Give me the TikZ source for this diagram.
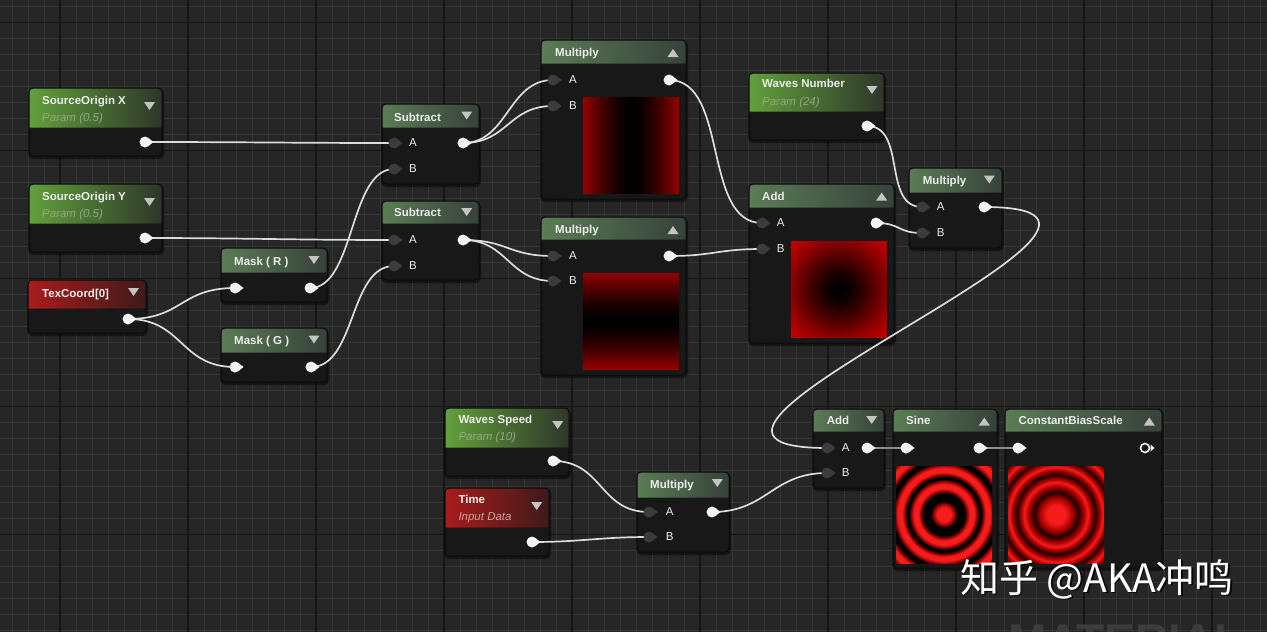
\documentclass[tikz,border=0pt]{standalone}
\usepackage{fontspec}
\setmainfont{Liberation Sans}
\newfontfamily\cjkfont{Noto Sans CJK SC}
\usetikzlibrary{fit}
\definecolor{bgc}{HTML}{262626}
\definecolor{gridminor}{HTML}{353535}
\definecolor{gridmajor}{HTML}{161616}
\definecolor{bodyc}{HTML}{181818}
\definecolor{edgec}{HTML}{0A0A0A}
\definecolor{wirec}{HTML}{DCDCDC}
\definecolor{wiredim}{HTML}{8C8C8C}
\definecolor{pinw}{HTML}{F2F2F2}
\definecolor{ping}{HTML}{3C3C3C}
\definecolor{arrc}{HTML}{C4C4C4}
\definecolor{titlec}{HTML}{EDEDED}
\definecolor{opL}{HTML}{5B7C55}
\definecolor{opR}{HTML}{36413A}
\definecolor{parL}{HTML}{62A03C}
\definecolor{parR}{HTML}{2E3629}
\definecolor{redL}{HTML}{A81C1C}
\definecolor{redR}{HTML}{3E1A1A}
\definecolor{subg}{HTML}{93A884}
\definecolor{subr}{HTML}{D0A0A0}
\definecolor{matc}{HTML}{3C3C3C}
% preview colours
\definecolor{pvA}{HTML}{960000}
\definecolor{pvB}{HTML}{620000}
\definecolor{pvC}{HTML}{340000}
\definecolor{pvD}{HTML}{0E0000}
\definecolor{adA}{HTML}{0A0000}
\definecolor{adB}{HTML}{240000}
\definecolor{adC}{HTML}{440000}
\definecolor{adD}{HTML}{660000}
\definecolor{adE}{HTML}{8C0000}
\definecolor{adF}{HTML}{AA0000}
\definecolor{adG}{HTML}{C80000}
\definecolor{rr}{HTML}{F51C1C}
\definecolor{rd}{HTML}{8A0000}
\definecolor{rm}{HTML}{B00000}
\definecolor{cd}{HTML}{1C0000}
\pgfdeclarehorizontalshading{sqh}{100bp}{color(0bp)=(pvA); color(25bp)=(pvA); color(31bp)=(pvB); color(37.5bp)=(pvC); color(44bp)=(pvD); color(50bp)=(black); color(56bp)=(pvD); color(62.5bp)=(pvC); color(69bp)=(pvB); color(75bp)=(pvA); color(100bp)=(pvA)}
\pgfdeclareverticalshading{sqv}{100bp}{color(0bp)=(pvA); color(25bp)=(pvA); color(31bp)=(pvB); color(37.5bp)=(pvC); color(44bp)=(pvD); color(50bp)=(black); color(56bp)=(pvD); color(62.5bp)=(pvC); color(69bp)=(pvB); color(75bp)=(pvA); color(100bp)=(pvA)}
\pgfdeclareradialshading{addrad}{\pgfpoint{0bp}{0bp}}{color(0bp)=(black); color(5bp)=(adA); color(10bp)=(adB); color(15bp)=(adC); color(20bp)=(adD); color(25bp)=(adE); color(30bp)=(adF); color(35.5bp)=(adG); color(50bp)=(adG)}
\pgfdeclareradialshading{sinering}{\pgfpoint{0bp}{0bp}}{color(0bp)=(rr); color(3.6bp)=(rr); color(5.7bp)=(rd); color(6.8bp)=(black); color(10.9bp)=(black); color(12bp)=(rd); color(13.5bp)=(rr); color(15.6bp)=(rr); color(17.2bp)=(rd); color(18.2bp)=(black); color(19.5bp)=(black); color(20.5bp)=(rd); color(21.8bp)=(rr); color(23.9bp)=(rr); color(25.5bp)=(rd); color(26.5bp)=(black); color(28.6bp)=(black); color(29.6bp)=(rd); color(31.2bp)=(rr); color(33.3bp)=(rr); color(34.8bp)=(rd); color(35.9bp)=(black); color(50bp)=(black)}
\pgfdeclareradialshading{cbsring}{\pgfpoint{0bp}{0bp}}{color(0bp)=(rr); color(4.7bp)=(rr); color(8.3bp)=(rm); color(11.4bp)=(cd); color(14.6bp)=(rm); color(16.6bp)=(rr); color(18.2bp)=(rm); color(20.5bp)=(cd); color(22.9bp)=(rm); color(24.4bp)=(rr); color(26bp)=(rm); color(28.1bp)=(cd); color(30.2bp)=(rm); color(31.7bp)=(rr); color(33.3bp)=(rm); color(35.4bp)=(cd); color(37.4bp)=(rm); color(50bp)=(rm)}
\pgfdeclarelayer{back}
\pgfdeclarelayer{bodies}
\pgfdeclarelayer{wires}
\pgfsetlayers{back,bodies,wires,main}
\tikzset{
  ttl/.style={anchor=base west, inner sep=0pt, text=titlec, font=\fontsize{11.5}{13}\selectfont\bfseries},
  subp/.style={anchor=base west, inner sep=0pt, text=subg, font=\fontsize{11.5}{13}\selectfont\itshape},
  subt/.style={anchor=base west, inner sep=0pt, text=subr, font=\fontsize{11.5}{13}\selectfont\itshape},
  plab/.style={anchor=west, inner sep=0pt, text=titlec, font=\fontsize{11.5}{13}\selectfont},
  opin/.style={circle, fill=pinw, minimum size=11pt, inner sep=0pt},
  ipin/.style={circle, fill=ping, minimum size=11pt, inner sep=0pt},
  hpin/.style={circle, draw=pinw, line width=1.6pt, minimum size=9pt, inner sep=0pt},
  wire/.style={draw=wirec, line width=1.7pt},
  wiredimmed/.style={draw=wiredim, line width=1.5pt},
}
\newcommand\uenode[8]{%
  \begin{pgfonlayer}{bodies}
  \fill[black,opacity=0.45,rounded corners=5pt] (#2-1,#3+1) rectangle (#4+2,#5+3);
  \fill[bodyc,rounded corners=4pt] (#2,#3) rectangle (#4,#5);
  \begin{scope}
    \clip[rounded corners=4pt] (#2,#3) rectangle (#4,#5);
    \shade[left color=#7,right color=#8] (#2,#3) rectangle (#4,#6);
    \fill[black,opacity=0.25] (#2,#6) rectangle (#4,#6+1.2);
  \end{scope}
  \node[draw=edgec,line width=1pt,rounded corners=4pt,inner sep=0pt,fit={(#2,#3)(#4,#5)}] (#1) {};
  \end{pgfonlayer}}
\newcommand\adown[2]{\fill[arrc] (#1-5.5,#2-4) -- (#1+5.5,#2-4) -- (#1,#2+4) -- cycle;}
\newcommand\aup[2]{\fill[arrc] (#1-5.5,#2+4) -- (#1+5.5,#2+4) -- (#1,#2-4) -- cycle;}
\newcommand\opin[3]{\node[opin] (#1) at (#2,#3) {}; \fill[pinw] (#2+4,#3-3.5) -- (#2+8.5,#3) -- (#2+4,#3+3.5) -- cycle;}
\newcommand\ipin[3]{\node[ipin] (#1) at (#2,#3) {}; \fill[ping] (#2+4,#3-3.5) -- (#2+8.5,#3) -- (#2+4,#3+3.5) -- cycle;}
\newcommand\hpin[3]{\node[hpin] (#1) at (#2,#3) {}; \fill[pinw] (#2+5.5,#3-3.5) -- (#2+9.5,#3) -- (#2+5.5,#3+3.5) -- cycle;}
\begin{document}
\begin{tikzpicture}[x=1pt,y=-1pt]
\useasboundingbox (0,0) rectangle (1267,632);
\begin{pgfonlayer}{back}
\fill[bgc] (0,0) rectangle (1267,632);
\foreach \x in {-4,12,...,1268} \draw[gridminor,line width=0.9pt] (\x,0) -- (\x,632);
\foreach \y in {6.7,22.7,...,640} \draw[gridminor,line width=0.9pt] (0,\y) -- (1267,\y);
\foreach \x in {60,188,...,1267} \draw[gridmajor,line width=1.1pt] (\x,0) -- (\x,632);
\foreach \y in {22.7,150.7,...,640} \draw[gridmajor,line width=1.1pt] (0,\y) -- (1267,\y);
\node[anchor=base west, inner sep=0pt, text=matc, font=\fontsize{46}{50}\selectfont\bfseries] (mat) at (1008,656) {MATERIAL};
\end{pgfonlayer}

% SourceOrigin X
\uenode{sx}{29}{88}{162}{156}{127}{parL}{parR}
\node[ttl] (sx-t) at (42,104) {SourceOrigin X};
\node[subp] (sx-s) at (42,121) {Param (0.5)};
\adown{149.5}{106}
\opin{sx-o}{145}{142}
% SourceOrigin Y
\uenode{sy}{29}{184}{162}{252}{223}{parL}{parR}
\node[ttl] (sy-t) at (42,200) {SourceOrigin Y};
\node[subp] (sy-s) at (42,217) {Param (0.5)};
\adown{149.5}{202}
\opin{sy-o}{145}{238}
% TexCoord
\uenode{tc}{28}{280}{146}{333}{308}{redL}{redR}
\node[ttl] (tc-t) at (42,297) {TexCoord[0]};
\adown{133.5}{292}
\opin{tc-o}{128}{319}
% Mask R
\uenode{mr}{221}{248}{327}{302}{272}{opL}{opR}
\node[ttl] (mr-t) at (234,265) {Mask ( R )};
\adown{314}{260}
\opin{mr-i}{235}{288}
\opin{mr-o}{310}{288}
% Mask G
\uenode{mg}{221}{328}{327}{382}{352}{opL}{opR}
\node[ttl] (mg-t) at (234,344.5) {Mask ( G )};
\adown{314}{339.5}
\opin{mg-i}{235}{367}
\opin{mg-o}{311}{367}
% Subtract 1
\uenode{s1}{382}{104}{479}{184}{127}{opL}{opR}
\node[ttl] (s1-t) at (394,121) {Subtract};
\adown{466.7}{115.5}
\ipin{s1-a}{394}{143}
\ipin{s1-b}{394}{169}
\node[plab] (s1-la) at (409,143) {A};
\node[plab] (s1-lb) at (409,169) {B};
\opin{s1-o}{463}{143}
% Subtract 2
\uenode{s2}{382}{201}{479}{280}{223}{opL}{opR}
\node[ttl] (s2-t) at (394,216.7) {Subtract};
\adown{466.7}{212}
\ipin{s2-a}{394}{240}
\ipin{s2-b}{394}{266}
\node[plab] (s2-la) at (409,240) {A};
\node[plab] (s2-lb) at (409,266) {B};
\opin{s2-o}{463}{240}
% Multiply 1
\uenode{m1}{541}{40}{686}{199}{63}{opL}{opR}
\node[ttl] (m1-t) at (555,56.5) {Multiply};
\aup{673}{53}
\ipin{m1-a}{553}{80}
\ipin{m1-b}{553}{106}
\node[plab] (m1-la) at (569,80) {A};
\node[plab] (m1-lb) at (569,106) {B};
\opin{m1-o}{669}{80}
\shade[shading=sqh] (583,97) rectangle (679,193);
% Multiply 2
\uenode{m2}{541}{217}{686}{375}{239}{opL}{opR}
\node[ttl] (m2-t) at (555,233) {Multiply};
\aup{673}{230}
\ipin{m2-a}{553}{256}
\ipin{m2-b}{553}{281}
\node[plab] (m2-la) at (569,256) {A};
\node[plab] (m2-lb) at (569,281) {B};
\opin{m2-o}{669}{256}
\shade[shading=sqv] (583,273) rectangle (679,369);
% Waves Number
\uenode{wn}{749}{73}{884}{140}{111}{parL}{parR}
\node[ttl] (wn-t) at (762,87) {Waves Number};
\node[subp] (wn-s) at (762,105) {Param (24)};
\adown{872}{90}
\opin{wn-o}{867}{126}
% Add top
\uenode{a1}{749}{184}{894}{343}{207}{opL}{opR}
\node[ttl] (a1-t) at (762,200) {Add};
\aup{881.7}{196.5}
\ipin{a1-a}{762}{223}
\ipin{a1-b}{762}{249}
\node[plab] (a1-la) at (776.7,223) {A};
\node[plab] (a1-lb) at (776.7,249) {B};
\opin{a1-o}{876}{223}
\shade[shading=addrad] (791,241) rectangle (887,337);
% Multiply 3
\uenode{m3}{909}{168}{1002}{248}{192}{opL}{opR}
\node[ttl] (m3-t) at (922.7,184.7) {Multiply};
\adown{989.3}{179.5}
\ipin{m3-a}{922}{207}
\ipin{m3-b}{922}{233}
\node[plab] (m3-la) at (936.7,207) {A};
\node[plab] (m3-lb) at (936.7,233) {B};
\opin{m3-o}{984}{207}
% Waves Speed
\uenode{ws}{445}{408}{569}{476}{447}{parL}{parR}
\node[ttl] (ws-t) at (458.3,423) {Waves Speed};
\node[subp] (ws-s) at (458.3,440) {Param (10)};
\adown{557.7}{425}
\opin{ws-o}{553}{461}
% Time
\uenode{ti}{445}{488}{549}{556}{527}{redL}{redR}
\node[ttl] (ti-t) at (458.3,503.3) {Time};
\node[subt] (ti-s) at (458.3,520.7) {Input Data};
\adown{536.7}{506}
\opin{ti-o}{532}{542}
% Multiply 4
\uenode{m4}{637}{472}{729}{552}{497}{opL}{opR}
\node[ttl] (m4-t) at (650,488.3) {Multiply};
\adown{717.3}{483}
\ipin{m4-a}{649}{512}
\ipin{m4-b}{649}{537}
\node[plab] (m4-la) at (665.7,512) {A};
\node[plab] (m4-lb) at (665.7,537) {B};
\opin{m4-o}{712}{512}
% Add bottom
\uenode{a2}{813}{409}{884}{488}{431}{opL}{opR}
\node[ttl] (a2-t) at (826.7,424.7) {Add};
\adown{871.7}{420}
\ipin{a2-a}{827}{448}
\ipin{a2-b}{827}{473}
\node[plab] (a2-la) at (841.7,448) {A};
\node[plab] (a2-lb) at (841.7,473) {B};
\opin{a2-o}{867}{448}
% Sine
\uenode{si}{893}{409}{997}{568}{431}{opL}{opR}
\node[ttl] (si-t) at (906,424.7) {Sine};
\aup{984.3}{421.5}
\opin{si-i}{906}{448}
\opin{si-o}{979}{448}
\shade[shading=sinering] (896,466) rectangle (992,563);
% ConstantBiasScale
\uenode{cb}{1005}{409}{1162}{568}{431}{opL}{opR}
\node[ttl] (cb-t) at (1018.3,424.7) {ConstantBiasScale};
\aup{1149.3}{421.5}
\opin{cb-i}{1018}{448}
\hpin{cb-o}{1145}{448}
\shade[shading=cbsring] (1008,466) rectangle (1104,563);

% wires
\begin{pgfonlayer}{wires}
\draw[wire] (sx-o.center) .. controls +(100,0) and +(-100,0) .. (s1-a.center);
\draw[wire] (sy-o.center) .. controls +(100,0) and +(-100,0) .. (s2-a.center);
\draw[wire] (tc-o.center) .. controls +(55,0) and +(-55,0) .. (mr-i.center);
\draw[wire] (tc-o.center) .. controls +(55,0) and +(-55,0) .. (mg-i.center);
\draw[wire] (mr-o.center) .. controls +(45,0) and +(-45,0) .. (s1-b.center);
\draw[wire] (mg-o.center) .. controls +(45,0) and +(-45,0) .. (s2-b.center);
\draw[wire] (s1-o.center) .. controls +(45,0) and +(-45,0) .. (m1-a.center);
\draw[wire] (s1-o.center) .. controls +(45,0) and +(-45,0) .. (m1-b.center);
\draw[wire] (s2-o.center) .. controls +(45,0) and +(-45,0) .. (m2-a.center);
\draw[wire] (s2-o.center) .. controls +(45,0) and +(-45,0) .. (m2-b.center);
\draw[wire] (m1-o.center) .. controls +(60,0) and +(-60,0) .. (a1-a.center);
\draw[wire] (m2-o.center) .. controls +(45,0) and +(-45,0) .. (a1-b.center);
\draw[wire] (wn-o.center) .. controls +(40,0) and +(-40,0) .. (m3-a.center);
\draw[wire] (a1-o.center) .. controls +(25,0) and +(-25,0) .. (m3-b.center);
\draw[wire] (m3-o.center) .. controls +(240,0) and +(-240,0) .. (a2-a.center);
\draw[wire] (ws-o.center) .. controls +(50,0) and +(-50,0) .. (m4-a.center);
\draw[wire] (ti-o.center) .. controls +(50,0) and +(-50,0) .. (m4-b.center);
\draw[wire] (m4-o.center) .. controls +(55,0) and +(-55,0) .. (a2-b.center);
\draw[wiredimmed] (a2-o.center) -- (si-i.center);
\draw[wiredimmed] (si-o.center) -- (cb-i.center);
\end{pgfonlayer}

% watermark
\node[text=black, opacity=0.75, font=\cjkfont\fontsize{39}{42}\selectfont] (wms) at (1098.5,580.5) {知乎 @AKA冲鸣};
\node[text=white, font=\cjkfont\fontsize{39}{42}\selectfont] (wm) at (1097,579) {知乎 @AKA冲鸣};
\end{tikzpicture}
\end{document}
